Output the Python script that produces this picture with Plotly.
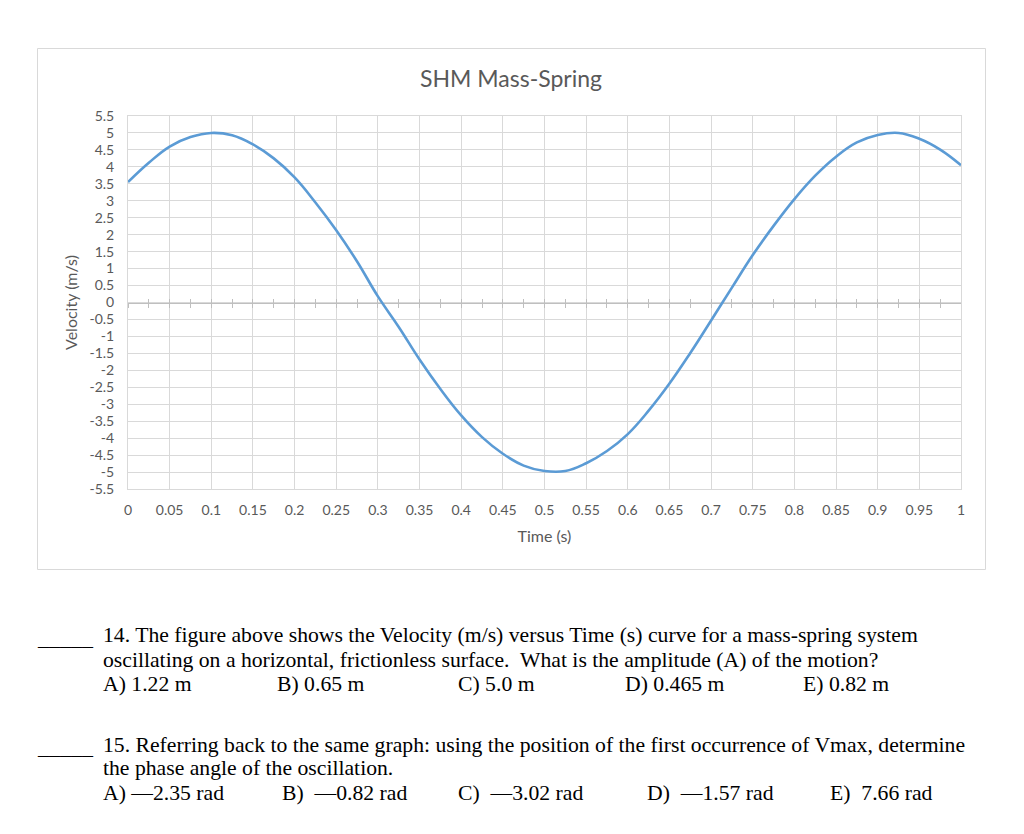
import plotly.graph_objects as go

# ---- data ----
time_s = [0.0, 0.025, 0.05, 0.075, 0.1, 0.125, 0.15, 0.175, 0.2, 0.225, 0.25,
          0.275, 0.3, 0.325, 0.35, 0.375, 0.4, 0.425, 0.45, 0.475, 0.5,
          0.525, 0.55, 0.575, 0.6, 0.625, 0.65, 0.675, 0.7, 0.725, 0.75,
          0.775, 0.8, 0.825, 0.85, 0.875, 0.9, 0.925, 0.95, 0.975, 1.0]
velocity = [3.55, 4.12, 4.60, 4.88, 5.00, 4.93, 4.66, 4.25, 3.69, 2.95, 2.13,
            1.21, 0.18, -0.72, -1.68, -2.55, -3.33, -3.97, -4.46, -4.81, -4.97,
            -4.97, -4.74, -4.38, -3.88, -3.19, -2.39, -1.49, -0.53, 0.44, 1.40,
            2.26, 3.05, 3.74, 4.30, 4.72, 4.94, 5.00, 4.83, 4.51, 4.05]

x_ticks = [round(i * 0.05, 2) for i in range(21)]
x_tick_text = ["0", "0.05", "0.1", "0.15", "0.2", "0.25", "0.3", "0.35", "0.4", "0.45", "0.5",
               "0.55", "0.6", "0.65", "0.7", "0.75", "0.8", "0.85", "0.9", "0.95", "1"]
y_ticks = [round(-5.5 + i * 0.5, 1) for i in range(23)]
y_tick_text = [("%g" % v) for v in y_ticks]

chart_title = "SHM Mass-Spring"
x_title = "Time (s)"
y_title = "Velocity (m/s)"

q14 = ["14. The figure above shows the Velocity (m/s) versus Time (s) curve for a mass-spring system",
       "oscillating on a horizontal, frictionless surface.\u00a0 What is the amplitude (A) of the motion?"]
q14_answers = ["A) 1.22 m", "B) 0.65 m", "C) 5.0 m", "D) 0.465 m", "E) 0.82 m"]
q15 = ["15. Referring back to the same graph: using the position of the first occurrence of Vmax, determine",
       "the phase angle of the oscillation."]
q15_answers = ["A) \u20142.35 rad", "B)\u00a0 \u20140.82 rad", "C)\u00a0 \u20143.02 rad",
               "D)\u00a0 \u20141.57 rad", "E)\u00a0 7.66 rad"]

# ---- layout geometry ----
W, H = 1024, 834
L, R, T, B = 128, 63, 116, 345
PW, PH = W - L - R, H - T - B


def px(xp):
    return (xp - L) / PW


def py(yp):
    return (H - B - yp) / PH


GRID = "#D9D9D9"
AXIS0 = "#BFBFBF"
TXT = "#595959"
SANS = "Lato, Calibri, Carlito, sans-serif"
SERIF = "Liberation Serif, Times New Roman, serif"

fig = go.Figure()
fig.add_trace(go.Scatter(x=time_s, y=velocity, mode="lines",
                         line=dict(color="#5B9BD5", width=2.6, shape="spline", smoothing=1.2),
                         showlegend=False, hoverinfo="x+y"))
# invisible helpers so the zero-crossing axes are drawn
fig.add_trace(go.Scatter(x=[time_s[0], time_s[-1]], y=[0, 0], xaxis="x2", mode="lines",
                         line=dict(width=0), showlegend=False, hoverinfo="skip"))
fig.add_trace(go.Scatter(x=[time_s[0], time_s[-1]], y=[0, 0], xaxis="x3", mode="lines",
                         line=dict(width=0), showlegend=False, hoverinfo="skip"))

fig.update_layout(
    width=W, height=H,
    margin=dict(l=L, r=R, t=T, b=B),
    paper_bgcolor="white", plot_bgcolor="white",
    title=dict(text=chart_title, x=511 / W, xref="container",
               y=1 - 79 / H, yref="container", xanchor="center", yanchor="middle",
               font=dict(family=SANS, size=23, color=TXT)),
    xaxis=dict(range=[0, 1], tickvals=x_ticks, ticktext=x_tick_text,
               showgrid=True, gridcolor=GRID, gridwidth=1,
               showline=True, linecolor=GRID, mirror=True, zeroline=False,
               ticks="", ticklabelstandoff=8,
               tickfont=dict(family=SANS, size=14, color=TXT),
               title=dict(text=x_title, font=dict(family=SANS, size=16, color=TXT), standoff=14),
               fixedrange=True),
    yaxis=dict(range=[-5.5, 5.5], tickvals=y_ticks, ticktext=y_tick_text,
               showgrid=True, gridcolor=GRID, gridwidth=1,
               showline=True, linecolor=GRID, mirror=True, zeroline=False,
               ticks="", ticklabelstandoff=10,
               tickfont=dict(family=SANS, size=14, color=TXT),
               title=dict(text=y_title, font=dict(family=SANS, size=16, color=TXT), standoff=7),
               fixedrange=True),
    xaxis2=dict(overlaying="x", anchor="free", position=py(302.5), range=[0, 1],
                tick0=0, dtick=0.025, ticks="outside", ticklen=4, tickcolor=AXIS0,
                showline=True, linecolor=AXIS0, linewidth=1, showgrid=False,
                showticklabels=False, zeroline=False, layer="below traces", fixedrange=True),
    xaxis3=dict(overlaying="x", anchor="free", position=py(302.5), range=[0, 1],
                tick0=0, dtick=0.025, ticks="inside", ticklen=4, tickcolor=AXIS0,
                showline=False, showgrid=False,
                showticklabels=False, zeroline=False, layer="below traces", fixedrange=True),
)

# chart frame
fig.add_shape(type="rect", xref="paper", yref="paper",
              x0=px(37.5), x1=px(985.5), y0=py(569.5), y1=py(48.5),
              line=dict(color=GRID, width=1), fillcolor="rgba(0,0,0,0)", layer="below")

ann = []


def text(x, ycen, s, size=21.7):
    ann.append(dict(x=px(x), y=py(ycen), xref="paper", yref="paper", text=s,
                    showarrow=False, xanchor="left", yanchor="middle",
                    font=dict(family=SERIF, size=size, color="black")))


# question 14
text(35, 637, "_____", size=22)
text(101, 635, q14[0])
text(101, 660, q14[1])
for xx, s in zip([101, 275, 456, 623, 801], q14_answers):
    text(xx, 684, s)
# question 15
text(35, 746, "_____", size=22)
text(101, 745, q15[0])
text(101, 768, q15[1])
for xx, s in zip([101, 280, 456, 645, 828], q15_answers):
    text(xx, 793, s)

fig.update_layout(annotations=ann)
fig.write_html("out.html")
